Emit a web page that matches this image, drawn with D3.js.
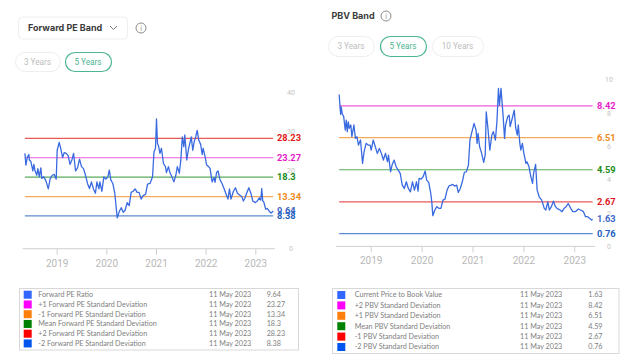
<!DOCTYPE html>
<html>
<head>
<meta charset="utf-8">
<script src="https://cdnjs.cloudflare.com/ajax/libs/d3/7.8.5/d3.min.js"></script>
<style>
    html, body { margin: 0; padding: 0; background: #fff; }
    svg { display: block; font-family: Inter, "Noto Sans", sans-serif; }
</style>
</head>
<body>
<div id="chart"></div>
<script>
const xTicks = [2019, 2020, 2021, 2022, 2023];

// Forward PE chart
const peYears = [
    2018.36, 2018.38, 2018.41, 2018.44, 2018.45, 2018.48, 2018.52, 2018.54, 2018.56, 2018.60, 2018.62, 2018.65, 2018.68, 2018.70, 2018.74, 2018.79, 2018.83, 2018.87, 2018.91, 2018.95, 2018.99,
    2019.01, 2019.05, 2019.08, 2019.12, 2019.15, 2019.19, 2019.23, 2019.27, 2019.31, 2019.34, 2019.38, 2019.42, 2019.46, 2019.50, 2019.54, 2019.58, 2019.62, 2019.66, 2019.70, 2019.74, 2019.78, 2019.81, 2019.85, 2019.87, 2019.91, 2019.95, 2019.99,
    2020.03, 2020.06, 2020.09, 2020.13, 2020.17, 2020.20, 2020.22, 2020.26, 2020.30, 2020.34, 2020.38, 2020.42, 2020.46, 2020.50, 2020.54, 2020.58, 2020.62, 2020.66, 2020.70, 2020.74, 2020.79, 2020.83, 2020.88, 2020.93, 2020.96, 2020.99,
    2021.01, 2021.03, 2021.05, 2021.08, 2021.11, 2021.15, 2021.19, 2021.21, 2021.25, 2021.28, 2021.32, 2021.36, 2021.40, 2021.43, 2021.47, 2021.50, 2021.53, 2021.56, 2021.58, 2021.62, 2021.65, 2021.68, 2021.71, 2021.74, 2021.77, 2021.80, 2021.83, 2021.86, 2021.90, 2021.93, 2021.95, 2021.99,
    2022.02, 2022.06, 2022.09, 2022.13, 2022.17, 2022.19, 2022.22, 2022.25, 2022.29, 2022.33, 2022.37, 2022.42, 2022.45, 2022.48, 2022.51, 2022.56, 2022.60, 2022.64, 2022.69, 2022.73, 2022.76, 2022.79, 2022.84, 2022.87, 2022.91, 2022.95,
    2023.00, 2023.04, 2023.08, 2023.11, 2023.13, 2023.15, 2023.17, 2023.21, 2023.24, 2023.28, 2023.32, 2023.36
];
const peValues = [
    24.4, 21.4, 23.5, 24.1, 22.7, 22.3, 19.9, 21.6, 20.1, 18.8, 20.5, 18.4, 20.7, 18.0, 18.4, 17.1, 15.3, 18.0, 18.8, 19.0, 17.8,
    25.2, 27.2, 25.7, 23.3, 24.6, 24.4, 23.8, 21.6, 22.9, 24.4, 19.9, 20.7, 22.9, 21.0, 20.5, 18.8, 16.7, 15.4, 17.1, 15.3, 14.2, 17.1, 15.3, 17.1, 14.7, 18.4, 17.8,
    18.4, 20.1, 17.6, 16.7, 14.2, 10.3, 7.9, 9.5, 10.5, 9.3, 9.9, 11.8, 11.0, 14.4, 14.7, 15.3, 14.4, 14.4, 12.7, 13.6, 13.9, 16.5, 16.7, 18.4, 24.8, 25.7,
    33.2, 26.9, 26.3, 24.4, 25.7, 21.8, 21.0, 19.5, 21.0, 19.5, 18.4, 17.1, 18.8, 21.0, 19.3, 22.7, 28.6, 26.1, 29.1, 22.7, 25.2, 26.9, 28.6, 25.2, 27.4, 28.6, 30.3, 27.8, 26.7, 24.1, 25.7, 23.5,
    21.4, 21.0, 20.5, 17.1, 18.2, 17.0, 19.5, 19.9, 17.6, 16.7, 15.4, 13.7, 12.7, 15.3, 12.7, 14.7, 15.6, 14.2, 13.7, 13.3, 12.2, 12.9, 14.7, 15.6, 14.2, 12.2,
    11.8, 12.2, 13.0, 12.4, 15.4, 12.2, 12.0, 10.1, 10.3, 9.6, 9.1, 9.64
];
const peYTicks = [0, 10, 20, 30, 40];
const peNames = [
    "Forward PE Ratio",
    "+1 Forward PE Standard Deviation",
    "-1 Forward PE Standard Deviation",
    "Mean Forward PE Standard Deviation",
    "+2 Forward PE Standard Deviation",
    "-2 Forward PE Standard Deviation"
];
const peLatest = [9.64, 23.27, 13.34, 18.3, 28.23, 8.38];

// PBV chart
const pbvYears = [
    2018.38, 2018.40, 2018.41, 2018.42, 2018.44, 2018.47, 2018.50, 2018.52, 2018.54, 2018.56, 2018.58, 2018.61, 2018.63, 2018.67, 2018.70, 2018.73, 2018.76, 2018.80, 2018.84, 2018.87, 2018.91, 2018.95, 2018.99,
    2019.01, 2019.05, 2019.09, 2019.13, 2019.17, 2019.21, 2019.25, 2019.29, 2019.33, 2019.35, 2019.39, 2019.42, 2019.46, 2019.50, 2019.54, 2019.58, 2019.62, 2019.66, 2019.70, 2019.74, 2019.78, 2019.82, 2019.86, 2019.90, 2019.93, 2019.95, 2019.99,
    2020.03, 2020.07, 2020.10, 2020.14, 2020.18, 2020.20, 2020.22, 2020.26, 2020.30, 2020.34, 2020.38, 2020.42, 2020.46, 2020.50, 2020.54, 2020.58, 2020.61, 2020.65, 2020.69, 2020.72, 2020.76, 2020.80, 2020.84, 2020.88, 2020.92, 2020.95, 2020.99,
    2021.03, 2021.07, 2021.09, 2021.11, 2021.14, 2021.18, 2021.22, 2021.25, 2021.27, 2021.30, 2021.34, 2021.38, 2021.41, 2021.45, 2021.48, 2021.51, 2021.53, 2021.56, 2021.60, 2021.63, 2021.65, 2021.69, 2021.72, 2021.74, 2021.78, 2021.82, 2021.85, 2021.88, 2021.90, 2021.93, 2021.95, 2021.98,
    2022.01, 2022.05, 2022.07, 2022.11, 2022.14, 2022.18, 2022.20, 2022.24, 2022.27, 2022.31, 2022.36, 2022.41, 2022.44, 2022.48, 2022.51, 2022.55, 2022.59, 2022.63, 2022.66, 2022.72, 2022.76, 2022.80, 2022.84, 2022.88, 2022.93, 2022.97,
    2023.02, 2023.08, 2023.12, 2023.18, 2023.22, 2023.26, 2023.30, 2023.34, 2023.36
];
const pbvValues = [
    9.10, 8.26, 7.90, 8.36, 7.96, 7.76, 6.97, 7.56, 6.87, 7.46, 7.07, 7.27, 6.57, 7.27, 6.47, 6.57, 6.07, 6.37, 4.97, 5.67, 6.17, 6.07, 6.07,
    5.77, 6.37, 5.97, 5.57, 5.87, 5.57, 5.17, 5.57, 5.07, 5.47, 4.47, 4.87, 5.17, 4.77, 4.57, 4.37, 3.67, 3.47, 3.87, 3.47, 3.27, 3.87, 3.37, 3.87, 3.31, 4.07, 4.03,
    4.17, 4.51, 3.97, 3.83, 3.17, 2.67, 1.84, 2.18, 2.38, 2.28, 2.28, 2.77, 2.83, 3.37, 3.63, 3.67, 3.71, 3.61, 3.67, 3.23, 3.47, 3.87, 4.43, 4.47, 4.87, 6.37, 6.87,
    7.37, 6.97, 6.17, 6.77, 5.97, 5.57, 5.03, 5.47, 8.06, 7.17, 5.77, 6.67, 6.87, 6.37, 7.47, 9.46, 8.46, 9.46, 7.86, 6.47, 7.27, 7.76, 7.86, 7.17, 7.66, 8.16, 7.07, 6.67, 7.27, 6.17, 5.77, 6.17,
    5.57, 4.97, 5.07, 4.77, 4.27, 3.77, 4.37, 4.91, 3.37, 2.97, 2.77, 2.28, 2.18, 2.67, 2.18, 2.38, 2.71, 2.38, 2.28, 2.18, 2.08, 2.28, 2.38, 2.57, 2.28, 2.08,
    2.08, 2.24, 2.18, 2.08, 1.78, 1.78, 1.68, 1.58, 1.63
];
const pbvYTicks = [0, 2, 4, 6, 8, 10];
const pbvNames = [
    "Current Price to Book Value",
    "+2 PBV Standard Deviation",
    "+1 PBV Standard Deviation",
    "Mean PBV Standard Deviation",
    "-1 PBV Standard Deviation",
    "-2 PBV Standard Deviation"
];
const pbvLatest = [1.63, 8.42, 6.51, 4.59, 2.67, 0.76];

const latestDate = "11 May 2023";
const swatchColors = ["#3366ff", "#ff00ff", "#ff7f0e", "#008000", "#ff0000", "#0055ee"];
const labelColors = ["#3f68c8", "#e61ec8", "#ee8a1c", "#1a8a1a", "#e01818", "#1f5fc0"];

const svg = d3.select("#chart")
    .append("svg")
    .attr("width", 640)
    .attr("height", 358);

const drawBand = (o) => {
    const x = d3.scaleLinear()
        .domain([2019, 2023])
        .range(o.xRange);

    const y = d3.scaleLinear()
        .domain([0, o.yMax])
        .range(o.yRange);

    // Axes
    const gx = svg.append("g")
        .attr("transform", `translate(0, ${o.yRange[0]})`)
        .call(d3.axisBottom(x).tickValues(xTicks).tickFormat(d3.format("d")).tickSize(6).tickPadding(5));
    gx.select(".domain").remove();
    gx.append("line")
        .attr("x1", o.axisLeft)
        .attr("x2", o.axisRight)
        .attr("stroke", "#d0d0d0")
        .attr("stroke-width", 1);
    gx.selectAll(".tick line").attr("stroke", "#d0d0d0");
    gx.selectAll(".tick text")
        .attr("fill", "#b8b8b8")
        .style("font-family", "Roboto, sans-serif")
        .style("font-size", "10px");

    const gy = svg.append("g")
        .attr("transform", `translate(${o.yLabelX}, 0)`)
        .call(d3.axisRight(y).tickValues(o.yTicks).tickSize(0).tickPadding(0));
    gy.select(".domain").remove();
    gy.selectAll(".tick text")
        .attr("text-anchor", "middle")
        .attr("fill", "#c4c4c4")
        .style("font-family", "Roboto, sans-serif")
        .style("font-size", "7px");

    // Band lines, first entry of the arrays is the ratio itself
    o.latest.forEach((v, i) => {
        if (i === 0) return;
        svg.append("line")
            .attr("x1", x(o.years[0]))
            .attr("x2", x(o.years[o.years.length - 1]))
            .attr("y1", y(v))
            .attr("y2", y(v))
            .attr("stroke", labelColors[i])
            .attr("stroke-opacity", 0.72)
            .attr("stroke-width", 1.2);
    });

    const line = d3.line()
        .x((d, i) => x(o.years[i]))
        .y(d => y(d));

    svg.append("path")
        .datum(o.values)
        .attr("fill", "none")
        .attr("stroke", "#3a6ae0")
        .attr("stroke-width", 1.3)
        .attr("stroke-linejoin", "round")
        .attr("d", line);

    // End labels
    o.latest.forEach((v, i) => {
        svg.append("text")
            .attr("x", o.labelX)
            .attr("y", y(v) + 3)
            .attr("fill", labelColors[i])
            .style("font-family", "Roboto, sans-serif")
            .style("font-size", "9.3px")
            .style("font-weight", 700)
            .text(v);
    });

    // Legend table
    const leg = o.legend;
    svg.append("rect")
        .attr("x", leg.x)
        .attr("y", leg.y)
        .attr("width", leg.width)
        .attr("height", leg.height)
        .attr("fill", "#fff")
        .attr("stroke", "#d8d8d8");

    o.names.forEach((name, i) => {
        const rowY = leg.firstRow + i * leg.rowGap;
        svg.append("rect")
            .attr("x", leg.swatchX)
            .attr("y", rowY - 4)
            .attr("width", 8)
            .attr("height", 8)
            .attr("fill", swatchColors[i]);
        [[leg.nameX, name], [leg.dateX, latestDate], [leg.valueX, o.latest[i]]].forEach(([tx, t]) => {
            svg.append("text")
                .attr("x", tx)
                .attr("y", rowY + 2.4)
                .attr("fill", "#808080")
                .style("font-family", "Lato, sans-serif")
                .style("font-size", "7.2px")
                .text(t);
        });
    });
};

drawBand({
    years: peYears,
    values: peValues,
    latest: peLatest,
    names: peNames,
    yMax: 40,
    yTicks: peYTicks,
    xRange: [56.7, 255.3],
    yRange: [248.7, 92.4],
    axisLeft: 22.7,
    axisRight: 275,
    yLabelX: 291,
    labelX: 277,
    legend: { x: 19.5, y: 288.5, width: 279, height: 61.5, firstRow: 294.7, rowGap: 9.75, swatchX: 23.7, nameX: 38.3, dateX: 209, valueX: 266.7 }
});

drawBand({
    years: pbvYears,
    values: pbvValues,
    latest: pbvLatest,
    names: pbvNames,
    yMax: 10,
    yTicks: pbvYTicks,
    xRange: [370.7, 574.3],
    yRange: [246.4, 79.4],
    axisLeft: 336,
    axisRight: 595,
    yLabelX: 609,
    labelX: 597,
    legend: { x: 332.5, y: 288.5, width: 286.5, height: 65, firstRow: 295, rowGap: 10.4, swatchX: 337.3, nameX: 354.7, dateX: 520, valueX: 588.3 }
});

// Header controls
const pill = (px, py, w, h, label, active) => {
    svg.append("rect")
        .attr("x", px + 0.5)
        .attr("y", py + 0.5)
        .attr("width", w)
        .attr("height", h)
        .attr("rx", h / 2)
        .attr("fill", "#fff")
        .attr("stroke", active ? "#4cb592" : "#eeeeee")
        .attr("stroke-width", active ? 1.2 : 1);
    svg.append("text")
        .attr("x", px + w / 2)
        .attr("y", py + h / 2 + 3.2)
        .attr("text-anchor", "middle")
        .attr("fill", active ? "#4cb592" : "#bdbdbd")
        .style("font-family", "Roboto, sans-serif")
        .style("font-size", "8.2px")
        .text(label);
};

const infoIcon = (cx, cy) => {
    svg.append("circle")
        .attr("cx", cx)
        .attr("cy", cy)
        .attr("r", 5)
        .attr("fill", "none")
        .attr("stroke", "#8c8c8c")
        .attr("stroke-width", 1);
    svg.append("text")
        .attr("x", cx)
        .attr("y", cy + 2.6)
        .attr("text-anchor", "middle")
        .attr("fill", "#8c8c8c")
        .style("font-size", "7px")
        .text("i");
};

svg.append("rect")
    .attr("x", 18.5)
    .attr("y", 17)
    .attr("width", 109)
    .attr("height", 22)
    .attr("rx", 4)
    .attr("fill", "#fff")
    .attr("stroke", "#eeeeee");
svg.append("text")
    .attr("x", 28)
    .attr("y", 31)
    .attr("fill", "#3c3c3c")
    .style("font-size", "9px")
    .style("font-weight", 700)
    .text("Forward PE Band");
svg.append("path")
    .attr("d", d3.line()([[110, 26], [113.5, 29.5], [117, 26]]))
    .attr("fill", "none")
    .attr("stroke", "#777");
infoIcon(141, 28);

pill(15, 52, 45, 19, "3 Years", false);
pill(65, 52, 46, 19, "5 Years", true);

svg.append("text")
    .attr("x", 331.5)
    .attr("y", 19)
    .attr("fill", "#3c3c3c")
    .style("font-size", "9px")
    .style("font-weight", 700)
    .text("PBV Band");
infoIcon(386, 16);

pill(328, 36, 46, 20, "3 Years", false);
pill(380, 36, 46, 20, "5 Years", true);
pill(432, 36, 51, 20, "10 Years", false);
</script>
</body>
</html>
